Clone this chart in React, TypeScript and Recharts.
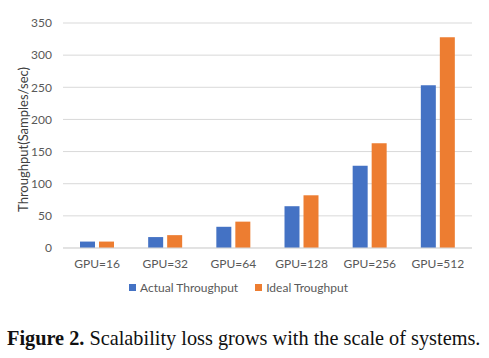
import React from 'react';
import { BarChart, Bar, XAxis, YAxis, CartesianGrid, Legend } from 'recharts';

const categories = ['GPU=16', 'GPU=32', 'GPU=64', 'GPU=128', 'GPU=256', 'GPU=512'];
const actualThroughput = [10, 17, 33, 65, 128, 253];
const idealThroughput = [10, 20, 41, 82, 163, 328];
const yTicks = [0, 50, 100, 150, 200, 250, 300, 350];

const data = categories.map((c, i) => ({
  name: c,
  actual: actualThroughput[i],
  ideal: idealThroughput[i],
}));

const FONT = 'Lato, "Open Sans", sans-serif';

const renderLegend = (props: any) => {
  const { payload } = props;
  return (
    <div style={{ display: 'flex', justifyContent: 'center', fontFamily: FONT, fontSize: 12, color: '#595959' }}>
      {payload.map((p: any, i: number) => (
        <div key={i} style={{ display: 'flex', alignItems: 'center', marginLeft: i === 0 ? 0 : 17 }}>
          <span style={{ display: 'inline-block', width: 7, height: 7, background: p.color, marginRight: 4 }} />
          <span>{p.value}</span>
        </div>
      ))}
    </div>
  );
};

export default function App() {
  return (
    <div style={{ position: 'absolute', left: 0, top: 0, width: 489, height: 358, background: '#fff' }}>
      <BarChart
        width={489}
        height={300}
        data={data}
        margin={{ top: 23, right: 17, left: 5, bottom: 0 }}
        barGap={4}
        barSize={15}
      >
        <CartesianGrid vertical={false} stroke="#d9d9d9" />
        <XAxis
          dataKey="name"
          axisLine={{ stroke: '#d9d9d9' }}
          tickLine={false}
          tickSize={0}
          tickMargin={11}
          height={32}
          tick={{ fontFamily: FONT, fontSize: 12, fill: '#595959' }}
        />
        <YAxis
          domain={[0, 350]}
          ticks={yTicks}
          axisLine={false}
          tickLine={false}
          tickSize={0}
          tickMargin={11}
          width={58}
          tick={{ fontFamily: FONT, fontSize: 12, fill: '#595959' }}
          label={{
            value: 'Throughput(Samples/sec)',
            angle: -90,
            position: 'insideLeft',
            offset: 18,
            dy: 4,
            style: { textAnchor: 'middle', fontFamily: FONT, fontSize: 13, fill: '#404040' },
          }}
        />
        <Legend verticalAlign="bottom" height={20} content={renderLegend} />
        <Bar dataKey="actual" name="Actual Throughput" fill="#4472C4" isAnimationActive={false} />
        <Bar dataKey="ideal" name="Ideal Troughput" fill="#ED7D31" isAnimationActive={false} />
      </BarChart>
      <div
        style={{
          position: 'absolute',
          left: 7,
          top: 327,
          fontFamily: '"Liberation Serif", "DejaVu Serif", serif',
          fontSize: 20.3,
          color: '#111',
          whiteSpace: 'nowrap',
        }}
      >
        <b>Figure 2.</b> Scalability loss grows with the scale of systems.
      </div>
    </div>
  );
}
